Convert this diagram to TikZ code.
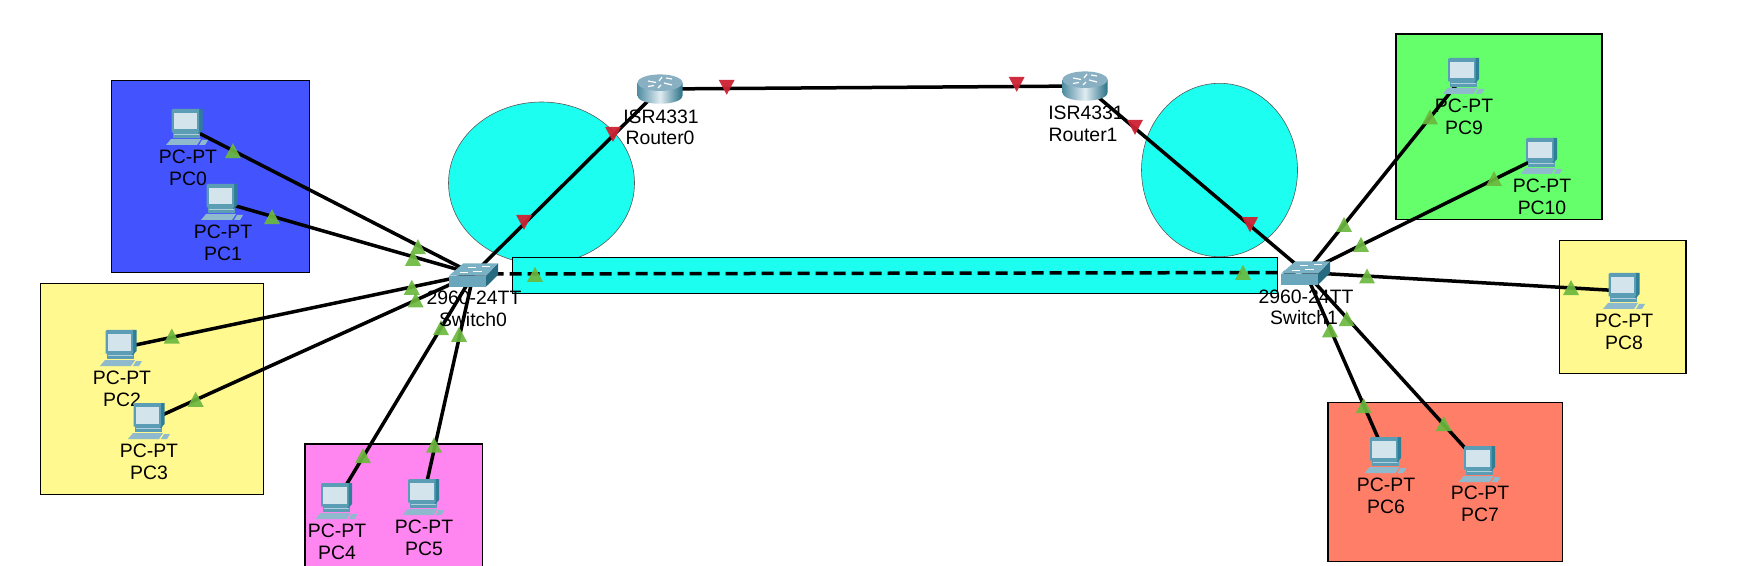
\documentclass[tikz,border=0pt]{standalone}
\usepackage{fontspec}
\setmainfont{Liberation Sans}
\definecolor{cblue}{HTML}{4354FF}
\definecolor{cyel}{HTML}{FFF98F}
\definecolor{cmag}{HTML}{FF86F0}
\definecolor{cteal}{HTML}{1CFFF0}
\definecolor{cgreen}{HTML}{66FF6C}
\definecolor{corange}{HTML}{FF7E68}
\definecolor{tgreen}{HTML}{6CB83F}
\definecolor{tred}{HTML}{CC2233}
\definecolor{ibody}{HTML}{5A9DB5}
\definecolor{idark}{HTML}{2E7E96}
\definecolor{ilight}{HTML}{D3E4EC}
\definecolor{ibase}{HTML}{8FB9CC}
\tikzset{
  zone/.style={draw=black,line width=0.55pt},
  blob/.style={draw=black!65,line width=0.3pt,fill=cteal},
  dev/.style={inner sep=0pt,minimum size=0pt},
  link/.style={draw=black,line width=1.75pt},
  dashlink/.style={link,dash pattern=on 6pt off 3pt},
  lbl/.style={inner sep=0pt,font=\fontsize{9.7}{11}\selectfont,text height=6.9pt,text depth=0pt},
  upmark/.style={fill=tgreen,fill opacity=0.92},
  downmark/.style={fill=tred,fill opacity=0.95},
  pcicon/.pic={
    \fill[ibase] (-21,18) -- (-16,12) -- (14,12) -- (10,18) -- cycle;
    \fill[ibase] (15,13) -- (21,13) -- (18,18) -- (12,18) -- cycle;
    \fill[ibody] (-14,5) rectangle (13,11);
    \fill[ilight!70!ibody] (-13,7) rectangle (12,8.3);
    \fill[idark] (11,-18) -- (15.5,-18) -- (15.5,3) -- (12,7) -- (11,7) -- cycle;
    \fill[ibody] (-15.5,-17) -- (-14,-18) -- (12,-18) -- (12,5.5) -- (-15.5,5.5) -- cycle;
    \fill[ilight] (-13.3,-14.3) rectangle (10.3,2.5);
  },
  swicon/.pic={
    \fill[ibody!90!white] (-24.5,0.7) rectangle (12.5,11.7);
    \fill[idark!85!black] (12.5,0.7) -- (24.5,-11.7) -- (24.5,0) -- (12.5,11.7) -- cycle;
    \fill[ibody!80!white] (-24.5,0.7) -- (-10.2,-11.7) -- (24.5,-11.7) -- (12.5,0.7) -- cycle;
    \draw[white,line width=0.5pt] (-6,-7.5) -- (2,-7.5) (8,-8.5) -- (16,-8.5) (-14,-2.5) -- (-6,-2.5) (-1,-3.5) -- (8,-3.5);
  },
  roicon/.pic={
    \shade[left color=ibody!90!black,right color=idark!90!black,middle color=ilight!70!white]
      (-22.5,-6.3) -- (-22.5,6.5) .. controls (-22.5,17.5) and (22.5,17.5) .. (22.5,6.5) -- (22.5,-6.3) -- cycle;
    \fill[ibase!95!black] (0,-6.3) ellipse[x radius=22.5,y radius=8.3];
    \draw[white,line width=0.6pt] (-12,-8) -- (-4,-6.5) (12,-4) -- (4,-6) (2,-12) -- (-1,-8) (-2,-1) -- (1,-4) (6,-11) -- (12,-10) (-12,-2.5) -- (-6,-3.5);
  }
}
\newcommand{\markup}[2]{\path[upmark] (#1-8,#2+7.5) -- (#1+8,#2+7.5) -- (#1,#2-7.5) -- cycle;}
\newcommand{\markdown}[2]{\path[downmark] (#1-8,#2-7.5) -- (#1+8,#2-7.5) -- (#1,#2+7.5) -- cycle;}
\begin{document}
\begin{tikzpicture}[x=0.5pt,y=-0.5pt]
\useasboundingbox (0,0) rectangle (1743,566);
% zones
\draw[zone,fill=cblue] (111.4,80.3) rectangle (309.6,272.3);
\draw[zone,fill=cyel] (40.7,283.6) rectangle (263.5,494.8);
\draw[zone,fill=cmag] (305,444) rectangle (482.5,590);
\draw[blob] (541.5,183) ellipse[x radius=93,y radius=81];
\draw[blob] (1219.5,170) ellipse[x radius=78,y radius=86.7];
\draw[zone,fill=cteal] (512.3,257.3) rectangle (1277.3,293.3);
\draw[zone,fill=cgreen] (1396,34) rectangle (1602,219.5);
\draw[zone,fill=cyel] (1559.3,240.6) rectangle (1686,373.4);
\draw[zone,fill=corange] (1328,402.2) rectangle (1562.5,561.8);
% device anchors
\foreach \n/\x/\y in {pcA/187/127,pcB/222/202,pcC/121/348,pcD/149/421,pcE/336.5/501,pcF/423.5/497,
  pcG/1385.5/455,pcH/1479.5/464,pcI/1624/291,pcJ/1463.5/76,pcK/1541.5/156,
  swA/473.5/274,swB/1305.5/272.5,roA/660/89,roB/1085/86}
  {\node[dev] (\n) at (\x,\y) {};}
% connectors
\foreach \a/\b in {pcA/swA,pcB/swA,pcC/swA,pcD/swA,pcE/swA,pcF/swA,
  pcG/swB,pcH/swB,pcI/swB,pcJ/swB,pcK/swB,roA/roB,roA/swA,roB/swB}
  {\draw[link] (\a.center) -- (\b.center);}
\draw[dashlink] (swA.center) -- (swB.center);
% link lights
\markdown{726.7}{87.3}\markdown{1016.7}{84.3}
\markdown{613}{134.3}\markdown{524}{222.3}
\markdown{1135}{127.3}\markdown{1250}{224.7}
\markup{535}{274.3}\markup{1243}{272.3}
\markup{232.9}{150.7}\markup{417.9}{246.7}
\markup{272}{216.7}\markup{413}{258.3}
\markup{171.8}{336}\markup{411.8}{287.3}
\markup{195.7}{399.3}\markup{415.7}{300}
\markup{363}{455.7}\markup{441}{327.7}
\markup{434}{445}\markup{459}{334.3}
\markup{1430}{116.9}\markup{1344}{224.5}
\markup{1494}{178.5}\markup{1361}{244.4}
\markup{1571}{287.6}\markup{1367}{276}
\markup{1363.7}{405.7}\markup{1330}{329.8}
\markup{1443.7}{423.5}\markup{1346.7}{318.6}
% labels
\foreach \n/\t/\x/\ya/\yb in {A/PC0/188/157/179,B/PC1/223/232/254,C/PC2/122/378/400,D/PC3/149/451/473,
  E/PC4/337/531/553,F/PC5/424/527/549,G/PC6/1386/484.5/506.5,H/PC7/1480/493/515,
  I/PC8/1624/321/343,J/PC9/1464/106/128,K/PC10/1542/186/208}
  {\node[lbl] (pc\n t) at (\x,\ya) {PC-PT};\node[lbl] (pc\n n) at (\x,\yb) {\t};}
\node[lbl] (swAt) at (474,298) {2960-24TT};
\node[lbl] (swAn) at (473,320) {Switch0};
\node[lbl] (swBt) at (1306,297) {2960-24TT};
\node[lbl] (swBn) at (1304,318) {Switch1};
\node[lbl] (roAt) at (661,117) {ISR4331};
\node[lbl] (roAn) at (660,138) {Router0};
\node[lbl] (roBt) at (1086,113) {ISR4331};
\node[lbl] (roBn) at (1083,135) {Router1};
% icons
\foreach \n in {pcA,pcB,pcC,pcD,pcE,pcF,pcG,pcH,pcI,pcJ,pcK}
  {\pic at (\n.center) {pcicon};}
\pic at (473.5,275) {swicon};
\pic at (1305.5,273) {swicon};
\pic at (roA.center) {roicon};
\pic at (roB.center) {roicon};
\end{tikzpicture}
\end{document}
